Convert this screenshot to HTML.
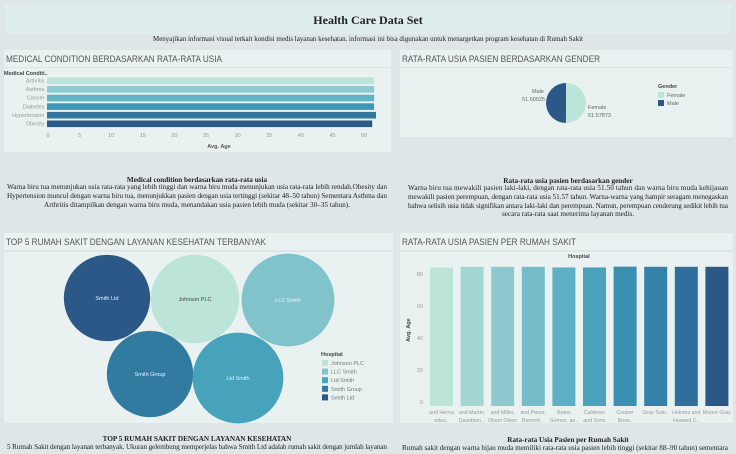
<!DOCTYPE html>
<html><head><meta charset="utf-8"><style>
body{margin:0;background:#dfe6e7;}
svg{display:block;font-family:"Liberation Sans",sans-serif;}
.serif{font-family:"Liberation Serif",serif;}
</style></head><body>
<svg width="736" height="454" viewBox="0 0 736 454">
<rect x="0" y="0" width="736" height="454" fill="#dfe6e7"/>
<rect x="5" y="3" width="726" height="31" fill="#dfeeec"/>
<text x="368" y="24" text-anchor="middle" class="serif" font-size="12" font-weight="bold" fill="#222">Health Care Data Set</text>
<text x="368" y="41" text-anchor="middle" class="serif" font-size="7" fill="#222" textLength="430">Menyajikan informasi visual terkait kondisi medis layanan kesehatan. informasi ini bisa digunakan untuk menargetkan program kesehatan di Rumah Sakit</text>

<!-- Panel 1 -->
<g>
<rect x="4" y="50" width="387" height="17" fill="#e9f2f1"/>
<text x="6" y="62" font-size="9.5" fill="#555" textLength="216" lengthAdjust="spacingAndGlyphs">MEDICAL CONDITION BERDASARKAN RATA-RATA USIA</text>
<rect x="4" y="68" width="387" height="84" fill="#e9f2f1"/>
<text x="4" y="75" font-size="5.5" font-weight="bold" fill="#444">Medical Conditi..</text>
<g id="bars1"></g>
<text x="219" y="148" text-anchor="middle" font-size="5.5" font-weight="bold" fill="#555">Avg. Age</text>
</g>

<!-- Panel 2 -->
<g>
<rect x="400" y="50" width="333" height="17" fill="#e9f2f1"/>
<text x="402" y="62" font-size="9.5" fill="#555" textLength="198" lengthAdjust="spacingAndGlyphs">RATA-RATA USIA PASIEN BERDASARKAN GENDER</text>
<rect x="400" y="68" width="333" height="69" fill="#e9f2f1"/>
<g id="pie"></g>
<text x="658" y="88" font-size="5.5" font-weight="bold" fill="#444">Gender</text>
<rect x="658" y="92" width="6" height="6" fill="#bde4d9"/>
<text x="667" y="97" font-size="5.5" fill="#666">Female</text>
<rect x="658" y="100" width="6" height="6" fill="#2b5886"/>
<text x="667" y="105" font-size="5.5" fill="#666">Male</text>
</g>

<!-- Text block 1 -->
<g class="serif" font-size="7.2" fill="#222">
<text x="197" y="182" text-anchor="middle" font-weight="bold">Medical condition berdasarkan rata-rata usia</text>
<text x="7" y="189" textLength="380">Warna biru tua menunjukan usia rata-rata yang lebih tinggi dan warna biru muda menunjukan usia rata-rata lebih rendah.Obesity dan</text>
<text x="7" y="198" textLength="380">Hypertension muncul dengan warna biru tua, menunjukkan pasien dengan usia tertinggi (sekitar 48–50 tahun) Sementara Asthma dan</text>
<text x="197" y="207" text-anchor="middle">Arthritis ditampilkan dengan warna biru muda, menandakan usia pasien lebih muda (sekitar 30–35 tahun).</text>
</g>
<!-- Text block 2 -->
<g class="serif" font-size="7.2" fill="#222">
<text x="568" y="183" text-anchor="middle" font-weight="bold">Rata-rata usia pasien berdasarkan gender</text>
<text x="568" y="190" text-anchor="middle" textLength="320">Warna biru tua mewakili pasien laki-laki, dengan rata-rata usia 51.50 tahun dan warna biru muda kehijauan</text>
<text x="568" y="199" text-anchor="middle" textLength="320">mewakili pasien perempuan, dengan rata-rata usia 51.57 tahun. Warna-warna yang hampir seragam menegaskan</text>
<text x="568" y="208" text-anchor="middle" textLength="320">bahwa selisih usia tidak signifikan antara laki-laki dan perempuan. Namun, perempuan cenderung sedikit lebih tua</text>
<text x="568" y="216" text-anchor="middle">secara rata-rata saat menerima layanan medis.</text>
</g>

<!-- Panel 3 -->
<g>
<rect x="4" y="233" width="389" height="17" fill="#e9f2f1"/>
<text x="6" y="245" font-size="9.5" fill="#555" textLength="260" lengthAdjust="spacingAndGlyphs">TOP 5 RUMAH SAKIT DENGAN LAYANAN KESEHATAN TERBANYAK</text>
<rect x="4" y="252" width="389" height="171" fill="#e9f2f1"/>
<g id="bubbles"></g>
<text x="321" y="356" font-size="5.5" font-weight="bold" fill="#444">Hospital</text>
<g id="legend3"></g>
</g>

<!-- Panel 4 -->
<g>
<rect x="400" y="233" width="333" height="17" fill="#e9f2f1"/>
<text x="402" y="245" font-size="9.5" fill="#555" textLength="174" lengthAdjust="spacingAndGlyphs">RATA-RATA USIA PASIEN PER RUMAH SAKIT</text>
<rect x="400" y="252" width="333" height="171" fill="#e9f2f1"/>
<text x="579" y="258" text-anchor="middle" font-size="5.5" font-weight="bold" fill="#444">Hospital</text>
<text transform="translate(410,330) rotate(-90)" text-anchor="middle" font-size="5.5" font-weight="bold" fill="#444">Avg. Age</text>
<g id="bars4"></g>
</g>

<!-- Bottom captions -->
<g class="serif" font-size="7.2" fill="#222">
<text x="197" y="441" text-anchor="middle" font-weight="bold">TOP 5 RUMAH SAKIT DENGAN LAYANAN KESEHATAN</text>
<text x="7" y="449" textLength="380">5 Rumah Sakit dengan layanan terbanyak. Ukuran gelembung memperjelas bahwa Smith Ltd adalah rumah sakit dengan jumlah layanan</text>
</g>
<g class="serif" font-size="7.2" fill="#222">
<text x="568" y="442" text-anchor="middle" font-weight="bold">Rata-rata Usia Pasien per Rumah Sakit</text>
<text x="402" y="450" textLength="326">Rumah sakit dengan warna hijau muda memiliki rata-rata usia pasien lebih tinggi (sekitar 88–90 tahun) sementara</text>
</g>
</svg>
<script>
const NS='http://www.w3.org/2000/svg';
function mk(tag,attrs,parent,txt){const e=document.createElementNS(NS,tag);for(const k in attrs)e.setAttribute(k,attrs[k]);if(txt!==undefined)e.textContent=txt;parent.appendChild(e);return e;}

// Panel 1 data
const conditions=['Arthritis','Asthma','Cancer','Diabetes','Hypertension','Obesity'];
const conditionAges=[51.6,51.6,51.6,51.6,51.9,51.3];
const xTicks1=[0,5,10,15,20,25,30,35,40,45,50];
// Panel 2 data
const genders=['Female','Male'];
const genderAges=[51.57873,51.50025];
const genderLabels=['51.57873','51.50025'];
// Panel 3 data
const bubbleHospitals=['Smith Ltd','Johnson PLC','LLC Smith','Smith Group','Ltd Smith'];
const bubbleCounts=[19,20,22,19,21];
const legendHospitals=['Johnson PLC','LLC Smith','Ltd Smith','Smith Group','Smith Ltd'];
// Panel 4 data
const hospitals4=[['and Herna','ndez..'],['and Martin,','Davidson ..'],['and Miller,','Olson Olson'],['and Perez,','Bennett ..'],['Bates','Gomez, an..'],['Calderon','and Sons'],['Cooper','Brow..'],['Gray Solo..',''],['Holmes and','Howard C..'],['Moore Gray','']];
const hospitalAges=[86.5,87,87,87,86.6,86.6,87.1,87,87,87];
const yTicks4=[0,20,40,60,80];

const pal6=['#bde4d9','#8ec9cf','#62b4c5','#3d97b7','#33779e','#2b5886'];

// Panel 1
(function(){
  const g=document.getElementById('bars1');
  const x=v=>48+v*6.32;
  const y=i=>77.5+i*8.6;
  xTicks1.forEach(t=>{const e=mk('text',{x:x(t),y:137,'text-anchor':'middle','font-size':5.5,fill:'#999'},g,String(t));
    
    });
  conditions.forEach((c,i)=>{
    const r=mk('rect',{x:47,y:y(i),width:x(conditionAges[i])-47,height:6.6,fill:pal6[i]},g);
    
    
    const l=mk('text',{x:44.5,y:y(i)+5,'text-anchor':'end','font-size':5.5,fill:'#999'},g,c);
    
    
  });
})();

// Panel 2 pie
(function(){
  const g=document.getElementById('pie');
  const cx=566,cy=103,r=20;
  const total=genderAges.reduce((a,b)=>a+b,0);
  let a0=0;
  const cols=['#bde4d9','#2b5886'];
  genderAges.forEach((v,i)=>{
    const a1=a0+v/total*2*Math.PI;
    const p=(a)=>[cx+r*Math.sin(a),cy-r*Math.cos(a)];
    const [x0,y0]=p(a0),[x1,y1]=p(a1);
    const large=(a1-a0)>Math.PI?1:0;
    const s=mk('path',{d:`M${cx},${cy}L${x0},${y0}A${r},${r} 0 ${large} 1 ${x1},${y1}Z`,fill:cols[i]},g);
    
    
    a0=a1;
  });
  const f1=mk('text',{x:588,y:109,'font-size':5.5,fill:'#666'},g,'Female');
  
  
  const f2=mk('text',{x:588,y:117,'font-size':5.5,fill:'#666'},g,genderLabels[0]);
  
  
  const m1=mk('text',{x:538,y:93,'text-anchor':'middle','font-size':5.5,fill:'#666'},g,'Male');
  
  
  const m2=mk('text',{x:545,y:101,'text-anchor':'end','font-size':5.5,fill:'#666'},g,genderLabels[1]);
  
  
})();

// Panel 3 bubbles
(function(){
  const g=document.getElementById('bubbles');
  const centers=[[107,298],[195,299],[288,300],[150,374],[238,378]];
  const colMap={'Johnson PLC':'#bde4d9','LLC Smith':'#80c3ca','Ltd Smith':'#46a3bb','Smith Group':'#317ba0','Smith Ltd':'#2b5886'};
  const rad=c=>10*Math.sqrt(c*0.98);
  bubbleHospitals.forEach((h,i)=>{
    const c=mk('circle',{cx:centers[i][0],cy:centers[i][1],r:rad(bubbleCounts[i]),fill:colMap[h]},g);
    
    
    const t=mk('text',{x:centers[i][0],y:centers[i][1]+2,'text-anchor':'middle','font-size':5.5,fill:h==='Johnson PLC'?'#444':'#eef'},g,h);
    
    
  });
  const lg=document.getElementById('legend3');
  legendHospitals.forEach((h,i)=>{
    const y=360+i*8.6;
    const s=mk('rect',{x:322,y:y,width:6,height:6,fill:colMap[h]},lg);
    
    
    const t=mk('text',{x:331,y:y+5,'font-size':5.5,fill:'#777'},lg,h);
    
    
  });
})();

// Panel 4 bars
(function(){
  const g=document.getElementById('bars4');
  const y=v=>406-v*1.6;
  const x=i=>430+i*30.6;
  const cols=['#bde4d9','#a3d6d1','#8ec9cf','#75bccb','#5fb0c5','#4aa2bd','#3a8fb2','#3382aa','#306f9b','#2b5886'];
  yTicks4.forEach(t=>{const e=mk('text',{x:423,y:y(t)-2,'text-anchor':'end','font-size':5.5,fill:'#999'},g,String(t));
    
    });
  hospitalAges.forEach((v,i)=>{
    const r=mk('rect',{x:x(i),y:y(v),width:23,height:y(0)-y(v),fill:cols[i]},g);
    
    
    hospitals4[i].forEach((ln,j)=>{ if(!ln)return;
      const t=mk('text',{x:x(i)+11.5,y:414+j*8,'text-anchor':'middle','font-size':5.3,fill:'#999'},g,ln);
      
      });
  });
})();
</script>
</body></html>
